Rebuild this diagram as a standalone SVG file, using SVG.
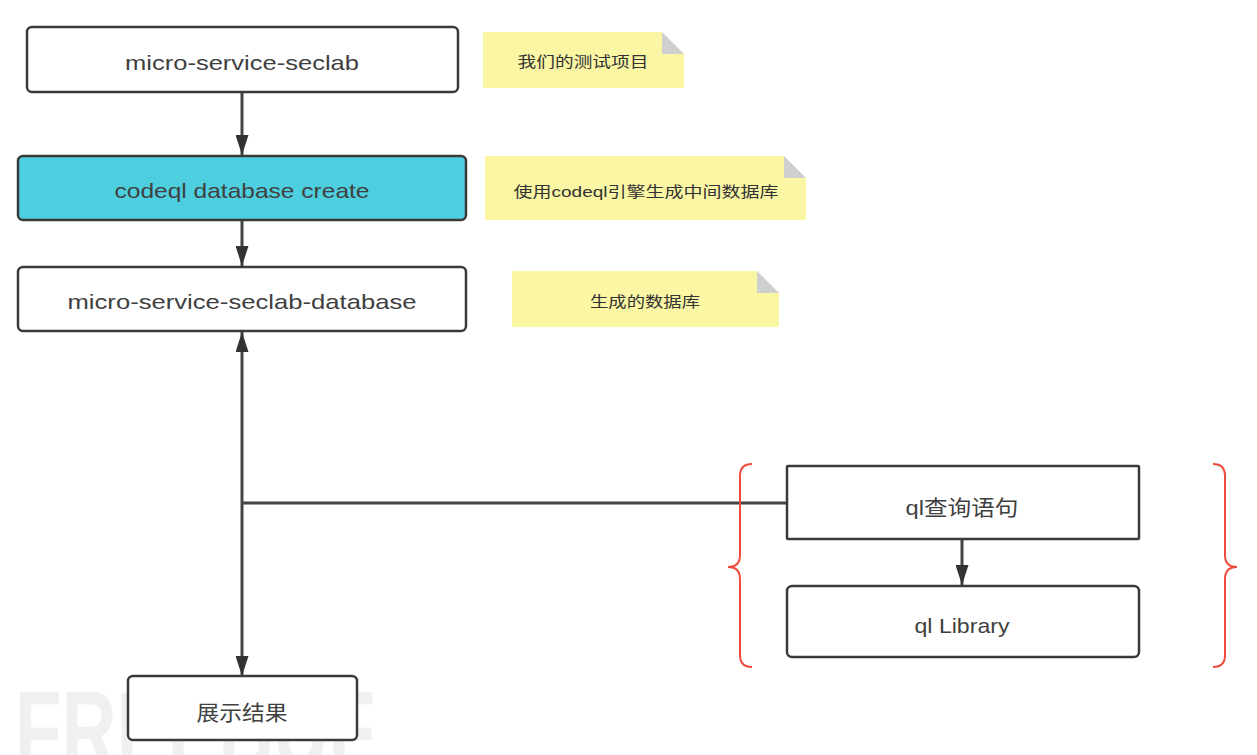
<svg xmlns="http://www.w3.org/2000/svg" width="1257" height="755" viewBox="0 0 1257 755">
<style>
.box{fill:#ffffff;stroke:#3a3a3a;stroke-width:2.5}
.cyan{fill:#4dcfe0;stroke:#3a3a3a;stroke-width:2.5}
.lbl{font-family:"Liberation Sans","Noto Sans CJK SC",sans-serif;font-size:21px;fill:#404040;text-anchor:middle}
.note{fill:#faf6a4}
.fold{fill:#cfcfcf}
.ntxt{font-family:"Liberation Sans","Noto Sans CJK SC",sans-serif;font-size:15px;fill:#333;text-anchor:middle}
.line{stroke:#444;stroke-width:3;fill:none}
.brace{stroke:#ef4a3c;stroke-width:2;fill:none}
.wm{font-family:"Liberation Sans",sans-serif;font-weight:bold;font-size:110px;fill:#f0f0f0}
</style>
<defs>
<marker id="ah" viewBox="0 0 20 13" refX="20" refY="6.5" markerWidth="20" markerHeight="13" markerUnits="userSpaceOnUse" orient="auto">
<path d="M0,0 L20,6.5 L0,13 Z" fill="#333"/>
</marker>
</defs>
<g id="watermark">
<text class="wm" x="15" y="768" textLength="360" lengthAdjust="spacingAndGlyphs">FREEBUF</text>
</g>
<g id="connectors">
<line class="line" x1="242" y1="92" x2="242" y2="155" marker-end="url(#ah)"/>
<line class="line" x1="242" y1="220" x2="242" y2="266" marker-end="url(#ah)"/>
<line class="line" x1="242" y1="503" x2="242" y2="332" marker-end="url(#ah)"/>
<line class="line" x1="242" y1="503" x2="242" y2="676" marker-end="url(#ah)"/>
<line class="line" x1="242" y1="503" x2="787" y2="503"/>
<line class="line" x1="962" y1="539" x2="962" y2="585" marker-end="url(#ah)"/>
</g>
<g id="brace-left">
<path class="brace" d="M752,464 Q740,464 740,476 L740,555 Q740,567 728,567 Q740,567 740,579 L740,655 Q740,667 752,667"/>
</g>
<g id="brace-right">
<path class="brace" d="M1213,464 Q1225,464 1225,476 L1225,555 Q1225,567 1237,567 Q1225,567 1225,579 L1225,655 Q1225,667 1213,667"/>
</g>
<g id="node-seclab">
<rect class="box" x="27" y="27" width="431" height="65" rx="5"/>
<text class="lbl" x="242" y="70" textLength="234" lengthAdjust="spacingAndGlyphs">micro-service-seclab</text>
</g>
<g id="node-create">
<rect class="cyan" x="18" y="156" width="448" height="64" rx="5"/>
<text class="lbl" x="242" y="198" textLength="255" lengthAdjust="spacingAndGlyphs">codeql database create</text>
</g>
<g id="node-database">
<rect class="box" x="18" y="267" width="448" height="64" rx="5"/>
<text class="lbl" x="242" y="309" textLength="349" lengthAdjust="spacingAndGlyphs">micro-service-seclab-database</text>
</g>
<g id="node-result">
<rect class="box" x="128" y="676" width="229" height="64" rx="5"/>
<text class="lbl" x="242" y="720" textLength="91" lengthAdjust="spacingAndGlyphs">展示结果</text>
</g>
<g id="node-query">
<rect class="box" x="787" y="466" width="352" height="73" rx="1"/>
<text class="lbl" x="962" y="515" textLength="113" lengthAdjust="spacingAndGlyphs">ql查询语句</text>
</g>
<g id="node-library">
<rect class="box" x="787" y="586" width="352" height="71" rx="5"/>
<text class="lbl" x="962" y="633" textLength="95" lengthAdjust="spacingAndGlyphs">ql Library</text>
</g>
<g id="note-1">
<path class="note" d="M483,32 L662,32 L684,54 L684,88 L483,88 Z"/>
<path class="fold" d="M662,32 L684,54 L662,54 Z"/>
<text class="ntxt" x="583" y="67" textLength="131" lengthAdjust="spacingAndGlyphs">我们的测试项目</text>
</g>
<g id="note-2">
<path class="note" d="M485,156 L784,156 L806,178 L806,220 L485,220 Z"/>
<path class="fold" d="M784,156 L806,178 L784,178 Z"/>
<text class="ntxt" x="646" y="197" textLength="265" lengthAdjust="spacingAndGlyphs">使用codeql引擎生成中间数据库</text>
</g>
<g id="note-3">
<path class="note" d="M512,271 L757,271 L779,293 L779,327 L512,327 Z"/>
<path class="fold" d="M757,271 L779,293 L757,293 Z"/>
<text class="ntxt" x="645" y="307" textLength="110" lengthAdjust="spacingAndGlyphs">生成的数据库</text>
</g>
</svg>
